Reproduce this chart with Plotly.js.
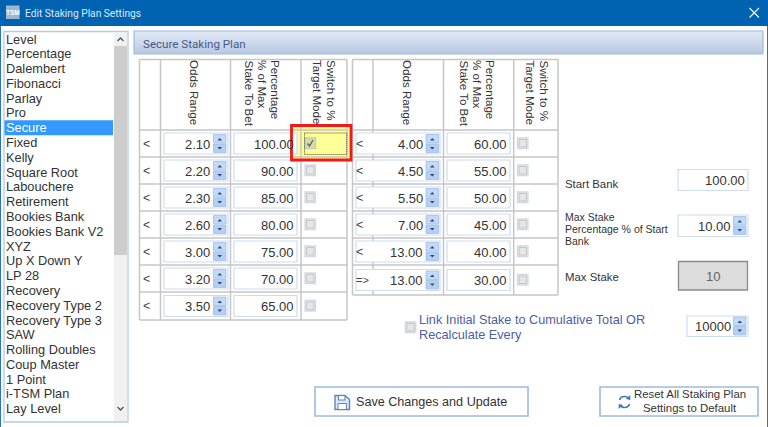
<!DOCTYPE html>
<html><head><meta charset="utf-8">
<script src="https://cdn.plot.ly/plotly-3.0.1.min.js"></script>
<style>html,body{margin:0;padding:0;background:#fff;overflow:hidden}#c{width:768px;height:427px}</style>
</head><body><div id="c"></div>
<script>
const planNames=["Level","Percentage","Dalembert","Fibonacci","Parlay","Pro","Secure","Fixed","Kelly","Square Root","Labouchere","Retirement","Bookies Bank","Bookies Bank V2","XYZ","Up X Down Y","LP 28","Recovery","Recovery Type 2","Recovery Type 3","SAW","Rolling Doubles","Coup Master","1 Point","i-TSM Plan","Lay Level"];
const selectedPlan="Secure";
const oddsLeft=[2.10,2.20,2.30,2.60,3.00,3.20,3.50];
const pctLeft=[100,90,85,80,75,70,65];
const signsLeft=["<","<","<","<","<","<","<"];
const oddsRight=[4.00,4.50,5.50,7.00,13.00,13.00];
const pctRight=[60,55,50,45,40,30];
const signsRight=["<","<","<","<","<","=>"];
const headerOdds=["Odds Range"];
const headerPct=["Percentage","% of Max","Stake To Bet"];
const headerSwitch=["Switch to %","Target Mode"];
const maxStakeLabel=["Max Stake","Percentage % of Start","Bank"];
const linkLabel=["Link Initial Stake to Cumulative Total OR","Recalculate Every"];
const resetLabel=["Reset All Staking Plan","Settings to Default"];
const startBank=100, maxStakePct=10, maxStake=10, recalcEvery=10000;

const shapes=[],ann=[];
const AR='"Liberation Sans",Arial,sans-serif';
function rect(x0,y0,x1,y1,fill,line,w,dash){shapes.push({type:'rect',xref:'x',yref:'y',x0,y0,x1,y1,fillcolor:fill||'rgba(0,0,0,0)',line:{color:line||'rgba(0,0,0,0)',width:line?(w||1):0,dash:dash||'solid'}});}
function seg(x0,y0,x1,y1,c,w){shapes.push({type:'line',xref:'x',yref:'y',x0,y0,x1,y1,line:{color:c,width:w||1}});}
function path(d,fill,line,w){shapes.push({type:'path',xref:'x',yref:'y',path:d,fillcolor:fill||'rgba(0,0,0,0)',line:{color:line||'rgba(0,0,0,0)',width:line?(w||1):0}});}
function text(t,x,y,size,color,xa,extra){ann.push(Object.assign({text:t,x,y,xref:'x',yref:'y',showarrow:false,xanchor:xa||'left',yanchor:'middle',font:{family:AR,size,color},borderpad:0,borderwidth:0},extra||{}));}
function lines(arr,x,y,step,size,color,xa){arr.forEach((t,i)=>text(t,x,y+i*step,size,color,xa));}
function vlines(arr,xRight,step,yTop,size){arr.forEach((t,i)=>text(t,xRight-i*step,yTop,size,'#333','center',{textangle:90,yanchor:'top'}));}

// window
rect(0,0,768,26,'#0063B1');
seg(0.5,26,0.5,427,'#2a76b8',1);seg(767.5,26,767.5,427,'#2a76b8',1);
rect(6,5.5,19.5,19,'#9db7d2');
text('TSM',12.7,12.3,6.5,'#fff','center',{font:{family:AR,size:6.5,color:'#fff',weight:700}});
text('Edit Staking Plan Settings',25,13,10.2,'#dfe9f4','left',{font:{family:'Roboto',size:10.2,color:'#dfe9f4'}});
seg(749.5,8,759,17.5,'#ffffff',1.1);seg(759,8,749.5,17.5,'#ffffff',1.1);

// list
rect(4,31.5,128,422,'#ffffff','#b3cbe6',1.3);
rect(114,33,127,421,'#f0f0f0');
rect(114,46,127,255,'#cdcdcd');
path('M117.5,41 L120.5,38 L123.5,41','','#555',1.3);
path('M117.5,407 L120.5,410 L123.5,407','','#555',1.3);
const listTop=39, listStep=14.79;
planNames.forEach((n,i)=>{
  const y=listTop+i*listStep, sel=n===selectedPlan;
  if(sel) rect(4.5,y-7.4,113,y+7.4,'#3399ff');
  text(n,6,y,12.8,sel?'#ffffff':'#333333');
});

// header panel with stacked strips
const gradTop=[225,233,245], gradBot=[184,201,227];
for(let i=0;i<23;i++){const t=i/22;const c=gradTop.map((a,k)=>Math.round(a+(gradBot[k]-a)*t));rect(134,31+i,763,32+i,`rgb(${c})`);}
rect(134,31,763,54,null,'#9dbbdf',1.2);
text('Secure Staking Plan',143,44,12,'#4a5a85','left',{font:{family:'Roboto',size:11.6,color:'#4a5a85'}});

// tables
const GRID='#c6c6c6';
function spinner(x,m){
  rect(x,m-9,x+12.5,m-.5,'#c4d9f5','#9fbfe8',.8);
  rect(x,m+.5,x+12.5,m+9,'#b5cff2','#9fbfe8',.8);
  path(`M${x+4},${m-3} L${x+6.25},${m-5.5} L${x+8.5},${m-3} Z`,'#2f4673');
  path(`M${x+4},${m+3.5} L${x+6.25},${m+6} L${x+8.5},${m+3.5} Z`,'#2f4673');
}
function checkbox(x,m){
  rect(x,m-5.5,x+10.5,m+5,'#eeeeee','#cfdae8',1.3);
  rect(x+1.5,m-4,x+9,m+3.5,'#e6e6e6','#bcbcbc',.8);
}
function table(cols,rows,signs,odds,pct,inp,chk,oddsEnd,spin,signX,hdr){
  rows.forEach(y=>seg(cols[0],y,cols[4],y,GRID,1.5));
  cols.forEach(x=>seg(x,rows[0],x,rows[rows.length-1],GRID,1.5));
  vlines(headerOdds,hdr[0],13,60,11.6);
  vlines(headerPct,hdr[1],13,60,11.6);
  vlines(headerSwitch,hdr[2],13.5,60,11.6);
  odds.forEach((v,i)=>{
    const t=rows[i+1],b=rows[i+2],m=(t+b)/2;
    text(signs[i],signX,m,signs[i]==='<'?12.5:11,'#444','left');
    rect(inp[0],m-10.5,inp[1],m+10.5,'#fff','#cfdcee',1.2);
    text(v.toFixed(2),oddsEnd,m+.5,13,'#333','right');
    spinner(spin,m);
    rect(inp[2],m-10.5,inp[3],m+10.5,'#fff','#cfdcee',1.2);
    text(pct[i].toFixed(2),inp[3]-3,m+.5,13,'#333','right');
    checkbox(chk,m);
  });
}
// highlight beneath the table text
rect(292,127,350,159,'#ffff99');
table([139.5,160.5,230.5,301,347],[59.5,130,157,184,211,238,265,292,320],signsLeft,oddsLeft,pctLeft,[164,228,234,297],305,210,213.5,142.5,[194.5,275.5,331.5]);
table([352.5,373,443.5,513.7,558],[59.5,130,157,184,211,238,265,295],signsRight,oddsRight,pctRight,[356,440,447,510],517.5,423,426,355.5,[407.5,490.5,544]);
// checked box, dotted focus box, red marker
rect(305,138,315.5,148.5,'#d8dd9c','#c3cba8',1.2);
path('M307.5,143.5 L309.5,146 L313,140','', '#4a6aa5',1.4);
rect(304.5,133,346.7,154.5,null,'#3a3a2a',.9,'1px,1px');
rect(291.5,125.5,351,160,null,'#f21818',2.8);

// right panel
text('Start Bank',565,184,11.4,'#333');
rect(678,169.5,748,190.5,'#fff','#cfdcee',1.2);
text(startBank.toFixed(2),744.5,180,13,'#333','right');
lines(maxStakeLabel,565,217.2,12,10.5,'#333');
rect(678,215,748,236.5,'#fff','#cfdcee',1.2);
text(maxStakePct.toFixed(2),730.5,226,13,'#333','right');
spinner(733.5,225.5);
text('Max Stake',565,277,11.4,'#333');
rect(678.5,261.5,747.5,290,'#dcdcdc','#8a8a8a',1.3);
text(String(maxStake),713,276.5,13,'#666','center');
checkbox(405.3,327.5);
lines(linkLabel,419,320,14.5,12.7,'#4b5ea6');
rect(687,316,748,336.5,'#fff','#cfdcee',1.2);
text(String(recalcEvery),730.7,326.5,13,'#333','right');
spinner(733.5,326);

// buttons
rect(315,387,528,416,'#fff','#9dbbdf',1.6);
path('M335,395.5 L345,395.5 L349.5,399.5 L349.5,409.5 L335,409.5 Z','#dce8f6','#5d86bd',1.4);
rect(338.5,395.5,345,400,'#ffffff','#5d86bd',1.1);
rect(338,403.5,346.5,409.5,'#fff','#5d86bd',1);
text('Save Changes and Update',356,402,12.6,'#333');
rect(600,387,758,416,'#fff','#9dbbdf',1.6);
path('M619.5,400 Q620.5,396.5 624.5,396.5 Q627,396.5 628,398','', '#3f7ab8',1.7);
path('M629.5,404 Q628.5,407.5 624.5,407.5 Q622,407.5 621,406','', '#3f7ab8',1.7);
path('M630.3,395 L630.3,400 L626,399 Z','#3f7ab8');
path('M618.7,409 L618.7,404 L623,405 Z','#3f7ab8');
lines(resetLabel,689.7,394.3,13.6,11.4,'#333','center');

const hidden={visible:false,fixedrange:true};
Plotly.newPlot('c',[{type:'scatter',x:[],y:[],hoverinfo:'skip'}],{
  width:768,height:427,margin:{l:0,r:0,t:0,b:0,pad:0},paper_bgcolor:'#fff',plot_bgcolor:'#fff',showlegend:false,
  xaxis:Object.assign({range:[0,768]},hidden),yaxis:Object.assign({range:[427,0]},hidden),
  shapes,annotations:ann
},{displayModeBar:false,staticPlot:true});
</script></body></html>
